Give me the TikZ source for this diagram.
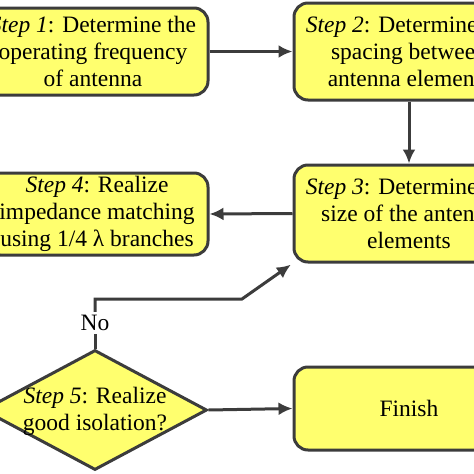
\documentclass[tikz,border=0pt]{standalone}
\usepackage{fontspec}
\setmainfont{Liberation Serif}
\usetikzlibrary{arrows.meta,shapes.geometric}
\definecolor{boxfill}{HTML}{FFFF6E}
\definecolor{edge}{HTML}{3C3C3C}
\tikzset{
  stepbox/.style={draw=edge, fill=boxfill, line width=3pt, rounded corners=14pt,
    align=center, inner sep=0pt, font=\fontsize{23.5}{27}\selectfont, text=black},
  conn/.style={draw=edge, line width=3pt, -{Latex[length=14pt,width=13pt]}},
  plain/.style={draw=edge, line width=3pt}
}
\begin{document}
\begin{tikzpicture}[x=1pt,y=-1pt]
\useasboundingbox (0,0) rectangle (474,474);
\clip (0,0) rectangle (474,474);
\node[stepbox, minimum width=230pt, minimum height=87pt] (b1) at (93,51.5)
  {\textit{Step 1}: Determine the\\operating frequency\\of antenna};
\node[stepbox, minimum width=230pt, minimum height=97pt] (b2) at (409,51.5)
  {\textit{Step 2}: Determine the\\spacing between\\antenna elements};
\node[stepbox, minimum width=230pt, minimum height=97pt] (b3) at (409,213.5)
  {\textit{Step 3}: Determine the\\size of the antenna\\elements};
\node[stepbox, minimum width=222pt, minimum height=82pt] (b4) at (97,214)
  {\textit{Step 4}: Realize\\impedance matching\\using 1/4 λ branches};
\node[draw=edge, fill=boxfill, line width=3pt, inner sep=0pt,
  shape=diamond, minimum width=224pt, minimum height=120pt] (d5) at (95,410) {};
\node[align=center, font=\fontsize{23.5}{27}\selectfont] (t5) at (95,411)
  {\textit{Step 5}: Realize\\good isolation?};
\node[stepbox, minimum width=230pt, minimum height=83pt] (fin) at (409,408.5) {Finish};
\node[font=\fontsize{23.5}{27}\selectfont, inner sep=3pt] (no) at (95,323) {No};
\coordinate (c1) at (95,299);
\coordinate (c2) at (242,299);
\draw[conn] (b1.east) -- (b2.west);
\draw[conn] (b2.south) -- (b3.north);
\draw[conn] (b3.west) -- (b4.east);
\draw[plain] (d5.north) -- (no.south);
\draw[conn, shorten >=2pt] (no.north) -- (c1) -- (c2) -- (b3.south west);
\draw[conn] (d5.east) -- (fin.west);
\end{tikzpicture}
\end{document}
